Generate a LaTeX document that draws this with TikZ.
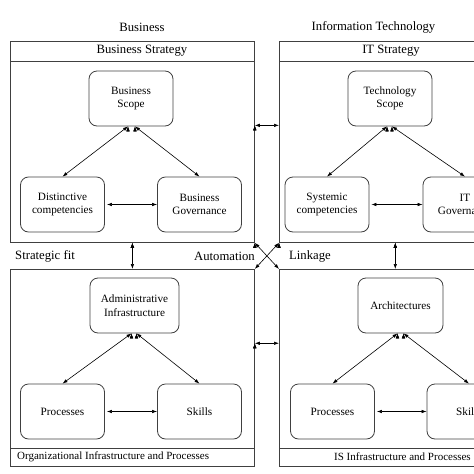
\documentclass[tikz,border=0pt]{standalone}
\usepackage{fontspec}
\setmainfont{Liberation Serif}
\usetikzlibrary{arrows.meta,positioning,calc}

\begin{document}
\begin{tikzpicture}[x=1pt,y=-1pt,
  frame/.style={draw=black!75,line width=0.8pt,anchor=north west,inner sep=0pt,minimum width=244pt},
  box/.style={draw=black!75,line width=0.8pt,rounded corners=8pt,minimum width=84pt,minimum height=55pt,align=center,font=\fontsize{11.2}{13.5}\selectfont},
  head/.style={inner sep=0pt,font=\fontsize{12.7}{15}\selectfont},
  foot/.style={inner sep=0pt,font=\fontsize{11}{13}\selectfont},
  both/.style={{Latex[length=5pt,width=3.5pt]}-{Latex[length=5pt,width=3.5pt]},draw=black,line width=0.6pt}]

\useasboundingbox (0,0) rectangle (474,474);
\clip (0,0) rectangle (474,474);

% frames
\node[frame,minimum height=20pt]  (ulh) at (10,41)  {};
\node[frame,minimum height=181pt] (ulf) at (10,61)  {};
\node[frame,minimum height=20pt]  (urh) at (279,41) {};
\node[frame,minimum height=181pt] (urf) at (279,61) {};
\node[frame,minimum height=179pt] (llf) at (10,269) {};
\node[frame,minimum height=18pt]  (llt) at (10,448) {};
\node[frame,minimum height=179pt] (lrf) at (279,269) {};
\node[frame,minimum height=18pt]  (lrt) at (279,448) {};

% texts
\node[head] (tb)  at (142,27)   {Business};
\node[head] (ti)  at (373.5,27) {Information Technology};
\node[head] (hbs) at (142,51)   {Business Strategy};
\node[head] (his) at (391,51)   {IT Strategy};
\node[head,anchor=west] (sf) at (15,256)  {Strategic fit};
\node[head,anchor=east] (au) at (255,256) {Automation};
\node[head,anchor=west] (li) at (289,256) {Linkage};
\node[foot,anchor=west] (fo) at (17,457)  {Organizational Infrastructure and Processes};
\node[foot,anchor=west] (fi) at (334,457) {IS Infrastructure and Processes};

% boxes
\node[box]    (bs) at (131,98.5)   {Business\\Scope};
\node[box]    (dc) at (62.5,204.5) {Distinctive\\competencies};
\node[box]    (bg) at (199.5,204.5) {Business\\Governance};
\node[box]    (ts) at (390,98.5)   {Technology\\Scope};
\node[box]    (sc) at (327,204.5)  {Systemic\\competencies};
\node[box]    (ig) at (465,204.5)  {IT\\Governance};
\node[box,minimum width=89pt] (ai) at (134.5,305.5) {Administrative\\Infrastructure};
\node[box]    (pl) at (62.5,411.5) {Processes};
\node[box]    (sl) at (199.5,411.5) {Skills};
\node[box,minimum width=85pt] (ar) at (400.5,305.5) {Architectures};
\node[box]    (pr) at (332.5,411.5) {Processes};
\node[box]    (sr) at (469,411.5)  {Skills};

\foreach \f/\s/\t in {% top node/shift/bottom node
	 bs/-3/dc,
	 bs/4/bg,
	 ts/-3/sc,
	 ts/2/ig,
	 ai/-3/pl,
	 ai/2/sl,
	 ar/-3/pr,
	 ar/3/sr}
	\path[both] ([xshift=\s pt]\f.south) edge (\t.north);

\foreach \f/\t in {dc/bg, sc/ig, pl/sl, pr/sr}
	\path[both,shorten <=2pt] (\f) edge (\t);

% between the frames
\path[both] ($(ulf.north east)!0.354!(ulf.south east)$) edge ($(urf.north west)!0.354!(urf.south west)$);
\path[both] ($(llf.north east)!0.413!(llf.south east)$) edge ($(lrf.north west)!0.413!(lrf.south west)$);
\path[both] (ulf.south) edge (llf.north);
\path[both] ($(urf.south west)!0.475!(urf.south east)$) edge ($(lrf.north west)!0.475!(lrf.north east)$);
\path[both] (ulf.south east) edge (lrf.north west);
\path[both] (urf.south west) edge (llf.north east);

\end{tikzpicture}
\end{document}
